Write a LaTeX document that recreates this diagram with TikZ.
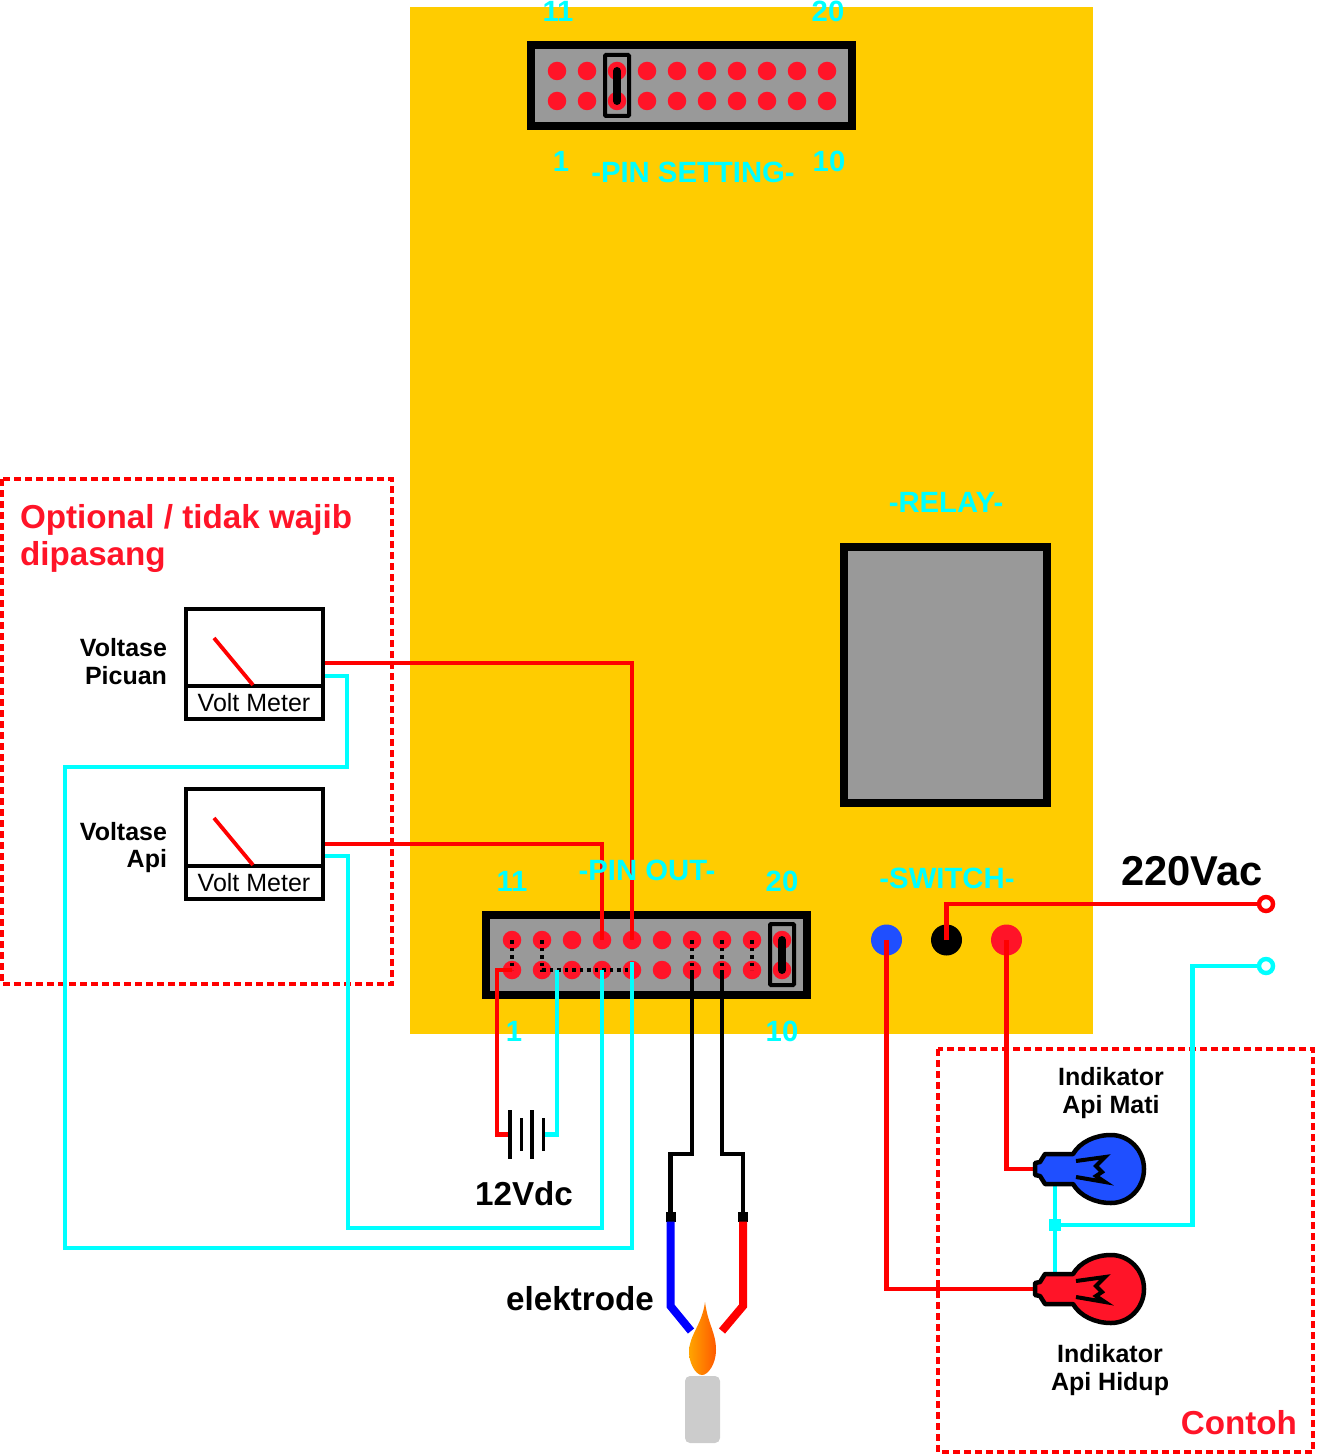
\documentclass[tikz,border=0pt]{standalone}
\usepackage{fontspec}
\setmainfont{Liberation Sans}
\definecolor{board}{HTML}{FFCC00}
\definecolor{hdr}{HTML}{999999}
\definecolor{pinred}{HTML}{FF1428}
\definecolor{pinblue}{HTML}{1F4FFF}
\definecolor{cyn}{HTML}{00FFFF}
\definecolor{wred}{HTML}{FF0000}
\definecolor{flameA}{HTML}{FFA400}
\definecolor{flameB}{HTML}{FF5A00}
\newcommand{\fsz}[1]{\fontsize{#1}{#1}\selectfont}
\tikzset{
  x=1pt,y=-1pt,
  lbl/.style={inner sep=0,outer sep=0,font=\bfseries\fsz{25},text=black,align=center},
  big/.style={inner sep=0,outer sep=0,font=\bfseries\fsz{33.2},text=black},
  cy/.style={inner sep=0,outer sep=0,font=\bfseries\fsz{29.3},text=cyn},
  header/.style={draw=black,line width=8pt,fill=hdr,rectangle,miter limit=10},
  pin/.style={circle,fill=pinred,minimum size=18.5pt,inner sep=0,outer sep=0},
  swpin/.style={circle,minimum size=31pt,inner sep=0,outer sep=0},
  jumperbox/.style={draw=black,line width=4pt,rounded corners=1pt},
  jumperbar/.style={black,line width=8pt,line cap=round},
  wire/.style={line width=4.4pt,miter limit=10},
  dots/.style={black,line width=3.5pt,dash pattern=on 3.5pt off 4pt},
  meter/.style={rectangle,draw=black,line width=4.5pt,fill=white,minimum width=137pt,minimum height=110pt,inner sep=0,outer sep=2pt},
  term/.style={circle,draw,line width=4.4pt,fill=white,minimum size=14pt,inner sep=0,outer sep=0},
  optbox/.style={draw=wred,line width=4pt,dash pattern=on 7pt off 4pt},
  plate/.style={fill=black,inner sep=0,outer sep=0,rectangle},
  pics/bulb/.style={code={
    \draw[fill=#1,draw=black,line width=4.5pt,line join=round]
      (-65,-15) -- (-37,-15) .. controls (-30,-27) and (-15,-34) .. (1,-34)
      .. controls (19,-34) and (34,-19) .. (34,0)
      .. controls (34,19) and (19,34) .. (1,34)
      .. controls (-15,34) and (-30,27) .. (-37,15)
      -- (-65,15) -- (-70,7) -- (-75,6) -- (-75,-6) -- (-70,-7) -- cycle;
    \draw[black,line width=4pt,line join=miter]
      (-34,-8) -- (-5,-12) -- (-14,-3) -- (-8,3) -- (-14,7) -- (-5,13) -- (-34,8);
  }}
}
\begin{document}
\begin{tikzpicture}
\useasboundingbox (0,0) rectangle (1316,1455);
% board
\fill[board] (410,7) rectangle (1093,1034);
% headers
\node[header,minimum width=321pt,minimum height=81pt,inner sep=0,outer sep=0] (hs) at (691.5,85.5) {};
\node[header,minimum width=321pt,minimum height=80pt,inner sep=0,outer sep=0] (ho) at (646.5,955) {};
\foreach \i in {1,...,10}{
  \node[pin] (sa\i) at ({527+30*\i},101) {};
  \node[pin] (sb\i) at ({527+30*\i},71) {};
  \node[pin] (oa\i) at ({482+30*\i},970) {};
  \node[pin] (ob\i) at ({482+30*\i},940) {};
}
% jumpers
\node[jumperbox,minimum width=24pt,minimum height=61pt,inner sep=0] (js) at (617,85.5) {};
\draw[jumperbar] (sb3.center) -- (sa3.center);
\node[jumperbox,minimum width=24pt,minimum height=61pt,inner sep=0] (jo) at (782,954.5) {};
\draw[jumperbar] (ob10.center) -- (oa10.center);
% relay
\node[draw=black,line width=8pt,fill=hdr,minimum width=203.5pt,minimum height=256pt,inner sep=0,outer sep=0] (relay) at (945.25,674.5) {};
% switch pins
\node[swpin,fill=pinblue] (swa) at (886.5,940) {};
\node[swpin,fill=black] (swb) at (946.5,940) {};
\node[swpin,fill=pinred] (swc) at (1006.5,940) {};
% dashed boxes
\draw[optbox] (2,479) rectangle (392,984);
\draw[optbox] (938,1049) rectangle (1313,1452);
% meters
\node[meter] (vmA) at (254.5,664) {};
\node[meter] (vmB) at (254.5,844) {};
\draw[black,line width=3.5pt] (vmA.west|-0,686) -- (vmA.east|-0,686);
\draw[black,line width=3.5pt] (vmB.west|-0,866) -- (vmB.east|-0,866);
\draw[wred,line width=3.8pt] (214,638) -- (253,685);
\draw[wred,line width=3.8pt] (214,818) -- (253,865);
\node[inner sep=0,font=\fsz{25}] (vmAt) at (254,703) {Volt Meter};
\node[inner sep=0,font=\fsz{25}] (vmBt) at (254,883) {Volt Meter};
% battery
\node[plate,minimum width=4.5pt,minimum height=49pt] (batA) at (510,1134.5) {};
\node[plate,minimum width=3pt,minimum height=33pt] (batB) at (521,1134.5) {};
\node[plate,minimum width=4.5pt,minimum height=49pt] (batC) at (532,1134.5) {};
\node[plate,minimum width=3pt,minimum height=33pt] (batD) at (543,1134.5) {};
% named free ends
\coordinate (tapB) at (557,970);
\coordinate (tapE) at (632,962);
\coordinate (cA) at (325,676);
\coordinate (cB) at (325,856);
\coordinate (rA) at (325,663);
\coordinate (rB) at (325,844);
\node[term,draw=wred] (acA) at (1266,904) {};
\node[term,draw=cyn] (acB) at (1266,966) {};
\node[fill=cyn,minimum size=12pt,inner sep=0,outer sep=0] (junc) at (1055,1225) {};
\coordinate (bulbA) at (1110,1169);
\coordinate (bulbB) at (1110,1289);
\node[plate,minimum size=10pt] (elA) at (670.5,1216.5) {};
\node[plate,minimum size=10pt] (elB) at (743,1216.5) {};
% dotted links
\draw[dots] (ob1.center) -- (oa1.center);
\draw[dots] (ob2.center) |- (oa5.center);
\draw[dots] (ob7.center) -- (oa7.center);
\draw[dots] (ob8.center) -- (oa8.center);
\draw[dots] (ob9.center) -- (oa9.center);
% wires
\draw[wire,wred] (rA) -| (ob5.center);
\draw[wire,wred] (rB) -| (ob4.center);
\draw[wire,cyn] (tapE) |- (65,1248) |- (347,767) |- (cA);
\draw[wire,cyn] (oa4.center) |- (348,1228) |- (cB);
\draw[wire,cyn] (tapB) |- (batD.east);
\draw[wire,wred] (oa1.center) -- ++(-15,0) |- (batA.west);
\draw[wire,black] (oa7.center) |- (670.5,1154) -- (elA.south);
\draw[wire,black] (oa8.center) |- (743,1154) -- (elB.south);
\draw[wire,wred] (swb.center) |- (acA.west);
\draw[wire,wred] (swa.center) |- (1040,1289);
\draw[wire,wred] (swc.center) |- (1040,1169);
\draw[wire,cyn] (acB.west) -| (1192.5,1225) -- (junc.center);
\draw[wire,cyn] (junc.center) -- (1055,1185);
\draw[wire,cyn] (junc.center) -- (1055,1274);
% bulbs
\pic at (bulbA) {bulb=pinblue};
\pic at (bulbB) {bulb=pinred};
% electrode tips
\draw[blue,line width=8pt,miter limit=10] (elA.south) -- (670.5,1306) -- (691,1331);
\draw[wred,line width=8pt,miter limit=10] (elB.south) -- (743,1306) -- (722,1331);
% candle
\fill[fill=black!20,rounded corners=5pt] (685,1376) rectangle (720,1443);
\shade[left color=flameA,right color=flameB]
  (705,1302) .. controls (708,1325) and (716,1332) .. (716,1350)
  .. controls (716,1364) and (708,1375) .. (702,1375)
  .. controls (695,1375) and (689,1362) .. (689,1352)
  .. controls (689,1335) and (702,1325) .. (705,1302) -- cycle;
% labels
\node[cy] (l1) at (558,11) {11};
\node[cy] (l2) at (828,11) {20};
\node[cy] (l3) at (561,161) {1};
\node[cy] (l4) at (829,161) {10};
\node[cy] (l5) at (693,172) {-PIN SETTING-};
\node[cy] (l6) at (512,881) {11};
\node[cy] (l7) at (782,881) {20};
\node[cy] (l8) at (514,1031) {1};
\node[cy] (l9) at (782,1031) {10};
\node[cy] (l10) at (647,870) {-PIN OUT-};
\node[cy] (l11) at (947,878) {-SWITCH-};
\node[cy] (l12) at (946,502) {-RELAY-};
\node[big,text=pinred,anchor=base west] (t1) at (20,528) {Optional / tidak wajib};
\node[big,text=pinred,anchor=base west] (t2) at (20,565) {dipasang};
\node[big,text=pinred,anchor=base east] (t3) at (1297,1434) {Contoh};
\node[big] (t4) at (524,1194) {12Vdc};
\node[big] (t5) at (580,1299) {elektrode};
\node[big,font=\bfseries\fsz{41.7}] (t6) at (1192,871) {220Vac};
\node[lbl,anchor=base east] (t7) at (167,656) {Voltase};
\node[lbl,anchor=base east] (t8) at (167,684) {Picuan};
\node[lbl,anchor=base east] (t9) at (167,840) {Voltase};
\node[lbl,anchor=base east] (t10) at (167,867) {Api};
\node[lbl,anchor=base] (t11) at (1111,1085) {Indikator};
\node[lbl,anchor=base] (t12) at (1111,1113) {Api Mati};
\node[lbl,anchor=base] (t13) at (1110,1362) {Indikator};
\node[lbl,anchor=base] (t14) at (1110,1390) {Api Hidup};
\end{tikzpicture}
\end{document}
